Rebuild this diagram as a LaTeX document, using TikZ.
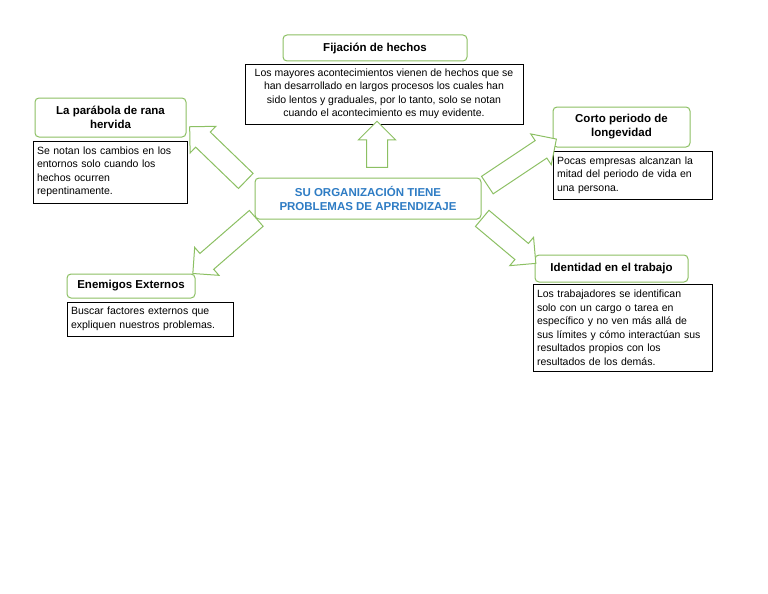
\documentclass[tikz,border=0pt]{standalone}
\usepackage{fontspec}
\setmainfont{Liberation Sans}
\usetikzlibrary{shapes.arrows}
\definecolor{gr}{HTML}{8CC063}
\definecolor{bl}{HTML}{2E7CC4}
\tikzset{
 title/.style={draw=gr,line width=1pt,rounded corners=4pt,font=\bfseries\fontsize{11.5}{14}\selectfont,align=center,inner sep=0pt},
 txt/.style={draw=black,line width=0.6pt,font=\fontsize{10.5}{13.5}\selectfont,inner sep=0pt},
 barrow/.style={draw=gr,line width=1pt,fill=white,single arrow,single arrow head extend=8pt,inner sep=10pt,single arrow tip angle=90,anchor=center},
}
\begin{document}
\begin{tikzpicture}[x=1pt,y=-1pt]
\useasboundingbox (0,0) rectangle (768,594);
\fill[white] (0,0) rectangle (768,594);
% boxes
\node[title,minimum width=184pt,minimum height=26pt] (fh) at (375,48) {Fijación de hechos};
\node[txt,minimum width=278pt,minimum height=60pt,align=center] (fht) at (384,94) {Los mayores acontecimientos vienen de hechos que se\\han desarrollado en largos procesos los cuales han\\sido lentos y graduales, por lo tanto, solo se notan\\cuando el acontecimiento es muy evidente.};
\node[title,minimum width=226pt,minimum height=41pt,text=bl] (c) at (368,198.5) {SU ORGANIZACIÓN TIENE\\PROBLEMAS DE APRENDIZAJE};
\node[title,minimum width=151pt,minimum height=39pt] (pr) at (110.5,117.5) {La parábola de rana\\hervida};
\node[txt,minimum width=154pt,minimum height=62pt,align=left,text width=146pt] (prt) at (110,172) {Se notan los cambios en los\\entornos solo cuando los\\hechos ocurren\\repentinamente.};
\node[title,minimum width=128pt,minimum height=24pt] (ee) at (131,286) {Enemigos Externos};
\node[txt,minimum width=166pt,minimum height=34pt,align=left,text width=158pt] (eet) at (150,319) {Buscar factores externos que\\expliquen nuestros problemas.};
\node[title,minimum width=137pt,minimum height=40pt] (cp) at (621.5,127) {Corto periodo de\\longevidad};
\node[txt,minimum width=159pt,minimum height=48pt,align=left,text width=151pt] (cpt) at (632.5,175) {Pocas empresas alcanzan la\\mitad del periodo de vida en\\una persona.};
\node[title,minimum width=153pt,minimum height=27pt] (id) at (611.5,268.5) {Identidad en el trabajo};
\node[txt,minimum width=179pt,minimum height=87pt,align=left,text width=171pt] (idt) at (622.5,327.5) {Los trabajadores se identifican\\solo con un cargo o tarea en\\específico y no ven más allá de\\sus límites y cómo interactúan sus\\resultados propios con los\\resultados de los demás.};
% block arrows
\node[barrow,minimum height=46pt,rotate=90] (a1) at (377,149.5) {};
\node[barrow,minimum height=78pt,rotate=136] (a2) at (221.5,157.5) {};
\node[barrow,minimum height=84pt,rotate=-139] (a3) at (228.5,242.5) {};
\node[barrow,minimum height=83pt,rotate=33.7] (a4) at (517.5,165) {};
\node[barrow,minimum height=70pt,rotate=-40] (a5) at (505,237.5) {};
\end{tikzpicture}
\end{document}
